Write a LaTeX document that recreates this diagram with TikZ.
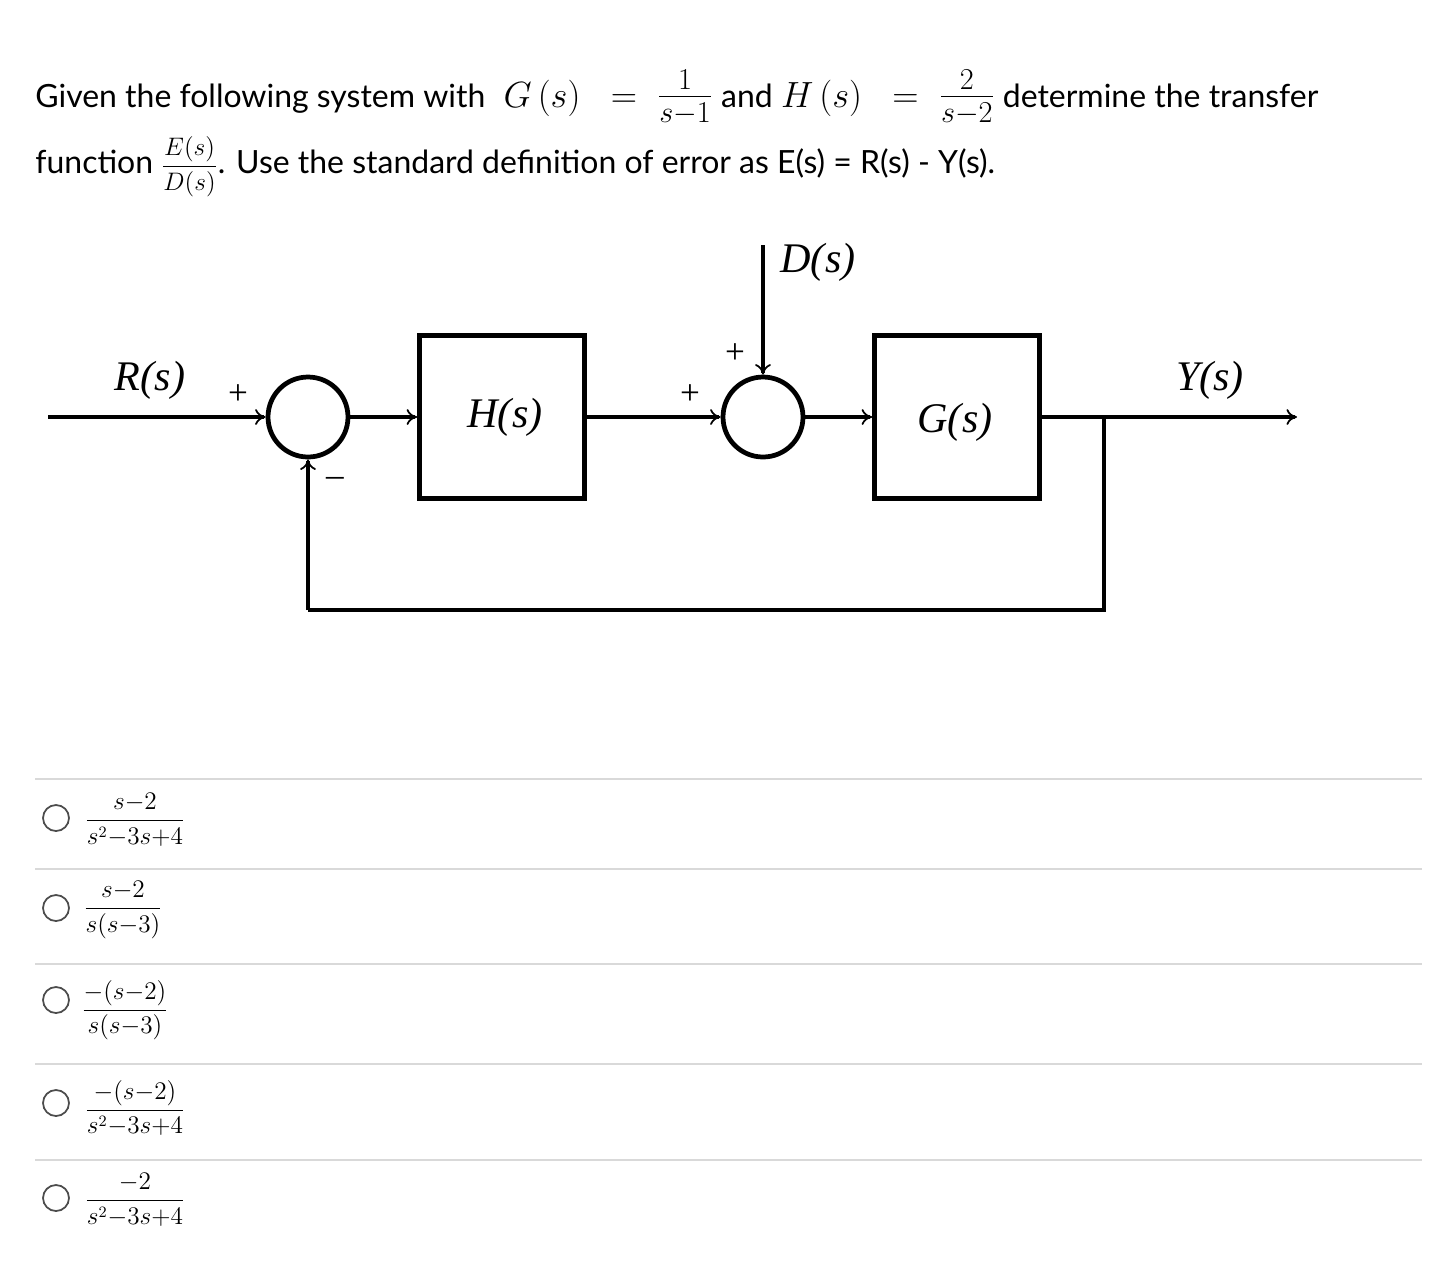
\documentclass[tikz,border=0pt]{standalone}
\usepackage{fontspec}
\setmainfont{Lato}
\newfontfamily\tnr{Liberation Serif}
\usetikzlibrary{arrows.meta}
\begin{document}
\begin{tikzpicture}[x=0.02cm,y=-0.02cm,
  wire/.style={line width=2.7pt},
  arr/.style={wire,-{To[length=6pt,width=9pt,line width=1pt]}},
  lab/.style={font=\tnr\itshape\fontsize{24}{24}\selectfont},
  sgn/.style={font=\tnr\fontsize{20}{20}\selectfont},
  txt/.style={anchor=base west,inner sep=0,font=\fontsize{18.2}{20}\selectfont},
  sep/.style={draw=black!15,line width=0.8pt},
  radio/.style={draw=black!70,line width=1pt,circle,minimum size=0.52cm,inner sep=0},
  ans/.style={font=\fontsize{13.5}{15}\selectfont}]
\useasboundingbox (0,0) rectangle (1454,1276);
\node[txt] (t1) at (35,107) {Given the following system with {\fontsize{21}{24}\selectfont$\;G\left(s\right)\;\;=\;\;$}{\fontsize{26}{26}\selectfont$\frac{1}{s-1}$} and {\fontsize{21}{24}\selectfont$H\left(s\right)\;\;=\;\;$}{\fontsize{26}{26}\selectfont$\frac{2}{s-2}$} determine the transfer};
\node[txt] (t2) at (35,173) {function {\fontsize{15}{16}\selectfont$\displaystyle\frac{E(s)}{D(s)}$}. Use the standard definition of error as E(s) = R(s) - Y(s).};
% diagram
\node[draw,circle,line width=2.7pt,minimum size=1.6cm,inner sep=0] (c1) at (308,417) {};
\node[draw,circle,line width=2.7pt,minimum size=1.6cm,inner sep=0] (c2) at (763,417) {};
\node[draw,line width=2.7pt,minimum width=3.3cm,minimum height=3.26cm,inner sep=0] (h) at (502,417) {};
\node[draw,line width=2.7pt,minimum width=3.3cm,minimum height=3.26cm,inner sep=0] (g) at (957,417) {};
\coordinate (rin) at (48,417);
\coordinate (dtop) at (763,245);
\coordinate (yout) at (1297,417);
\coordinate (br) at (1104,417);
\coordinate (bb) at (1104,610);
\coordinate (lb) at (308,610);
\draw[arr] (rin) -- (c1.west);
\draw[arr] (c1.east) -- (h.west);
\draw[arr] (h.east) -- (c2.west);
\draw[arr] (dtop) -- (c2.north);
\draw[arr] (c2.east) -- (g.west);
\draw[arr] (g.east) -- (yout);
\draw[wire] (br) -- (bb) -- (lb);
\draw[arr] (lb) -- (c1.south);
\node[lab] (lr) at (150,380) {R(s)};
\node[lab] (lh) at (505,417) {H(s)};
\node[lab] (lg) at (955,422) {G(s)};
\node[lab] (ld) at (818,262) {D(s)};
\node[lab] (ly) at (1210,380) {Y(s)};
\node[sgn] (p1) at (238,395) {+};
\node[sgn] (p2) at (690,395) {+};
\node[sgn] (p3) at (735,354) {+};
\node[sgn] (m1) at (335,482) {\textendash};
% separators
\foreach \y in {779,869,964,1064,1160} \draw[sep] (35,\y) -- (1422,\y);
\foreach \y/\n in {818/a,908/b,1000/c,1103/d,1198/e} \node[radio] (r\n) at (56,\y) {};
\node[ans] (fa) at (135,820) {$\displaystyle\frac{s{-}2}{s^2{-}3s{+}4}$};
\node[ans] (fb) at (123,910) {$\displaystyle\frac{s{-}2}{s(s{-}3)}$};
\node[ans] (fc) at (125,1010) {$\displaystyle\frac{-(s{-}2)}{s(s{-}3)}$};
\node[ans] (fd) at (135,1108) {$\displaystyle\frac{-(s{-}2)}{s^2{-}3s{+}4}$};
\node[ans] (fe) at (135,1200) {$\displaystyle\frac{-2}{s^2{-}3s{+}4}$};
\end{tikzpicture}
\end{document}
